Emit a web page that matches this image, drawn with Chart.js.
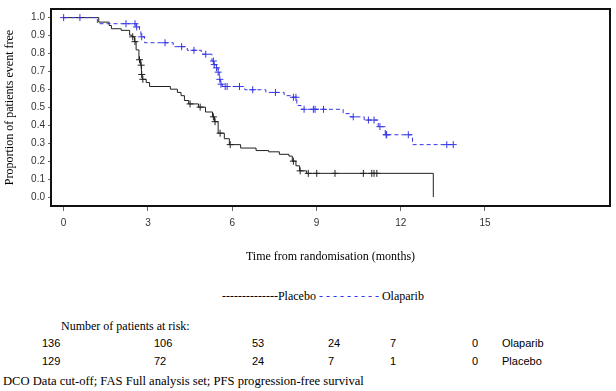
<!DOCTYPE html>
<html>
<head>
<meta charset="utf-8">
<script src="https://cdn.jsdelivr.net/npm/chart.js@4.4.1/dist/chart.umd.min.js"></script>
<style>
  body { margin: 0; width: 616px; height: 391px; background: #fff; position: relative; overflow: hidden; }
  #wrap { position: absolute; left: 0; top: 0; width: 616px; height: 270px; }
  .t { position: absolute; white-space: nowrap; line-height: 14px; }
  .serif { font-family: "Liberation Serif", "Times New Roman", serif; font-size: 12px; color: #000; }
  .sans { font-family: "Liberation Sans", Arial, sans-serif; font-size: 11px; color: #000; }
</style>
</head>
<body>
<div id="wrap"><canvas id="km_canvas"></canvas></div>
<div class="t serif" style="left:222px; top:289px;">--------------Placebo <span style="color:#3535e5">- - - - - - - - -</span> Olaparib</div>
<div class="t serif" style="left:61px; top:319px;">Number of patients at risk:</div>
<div id="risk"></div>
<div class="t serif" style="left:3px; top:374px; font-size:12.6px;">DCO Data cut-off; FAS Full analysis set; PFS progression-free survival</div>

<script>
// Kaplan-Meier steps (time in months, proportion event free after that time)
var olaparibTimes = [0, 1.2, 2.58, 2.7, 2.75, 2.88, 3.9, 4.4, 4.9, 5.28, 5.35, 5.42, 5.5, 5.54, 5.58, 5.65, 6.45, 7.2, 7.85, 8.1, 8.3, 8.45, 9.95, 10.2, 10.7, 11.2, 11.45, 12.42, 13.87];
var olaparibSurv  = [1.0, 0.966, 0.948, 0.925, 0.893, 0.86, 0.838, 0.818, 0.796, 0.758, 0.738, 0.72, 0.696, 0.656, 0.629, 0.616, 0.598, 0.583, 0.565, 0.556, 0.51, 0.489, 0.465, 0.447, 0.429, 0.392, 0.347, 0.292, 0.292];
var olaparibCensored = [0, 0.58, 2.22, 2.54, 2.6, 2.78, 3.61, 4.2, 4.64, 5.06, 5.33, 5.36, 5.44, 5.5, 5.56, 5.6, 5.75, 5.82, 6.26, 6.73, 7.54, 8.18, 8.27, 8.56, 8.89, 8.95, 9.25, 10.31, 10.85, 11.05, 11.26, 11.48, 11.5, 12.27, 13.64, 13.87];

var placeboTimes = [0, 1.25, 1.62, 1.7, 2.05, 2.35, 2.44, 2.52, 2.58, 2.68, 2.74, 2.77, 2.8, 2.94, 3.06, 3.8, 4.05, 4.18, 4.3, 4.45, 4.8, 5.05, 5.3, 5.37, 5.5, 5.72, 5.9, 6.3, 6.85, 7.3, 7.68, 8.02, 8.14, 8.27, 8.4, 8.65, 13.16];
var placeboSurv  = [1.0, 0.975, 0.956, 0.938, 0.929, 0.902, 0.893, 0.866, 0.82, 0.765, 0.735, 0.683, 0.656, 0.638, 0.616, 0.601, 0.583, 0.565, 0.538, 0.519, 0.501, 0.474, 0.447, 0.42, 0.356, 0.325, 0.292, 0.273, 0.259, 0.252, 0.238, 0.228, 0.2, 0.174, 0.146, 0.132, 0];
var placeboCensored = [2.46, 2.54, 2.7, 2.76, 2.78, 2.82, 4.5, 4.86, 5.33, 5.39, 5.57, 5.93, 8.18, 8.42, 8.71, 9.01, 9.66, 10.67, 10.97, 11.05, 11.15];

var xTicks = [0, 3, 6, 9, 12, 15];
var yTicks = [0, 0.1, 0.2, 0.3, 0.4, 0.5, 0.6, 0.7, 0.8, 0.9, 1.0];

// numbers at risk
var riskGroups = ["Olaparib", "Placebo"];
var olaparibAtRisk = [136, 106, 53, 24, 7, 0];
var placeboAtRisk = [129, 72, 24, 7, 1, 0];

var blue = "#3535e5";
var black = "#222";

function toPoints(times, surv) {
  return times.map(function (t, i) { return { x: t, y: surv[i] }; });
}

// put the censor marks on the curve
function censorPoints(times, surv, cens) {
  return cens.map(function (t) {
    var s = surv[0];
    for (var i = 0; i < times.length; i++) {
      if (times[i] <= t) s = surv[i];
    }
    return { x: t, y: s };
  });
}

// risk table under the chart
function render_risk_table() {
  var colX = [42, 154, 252, 328, 390, 472];
  var labelX = 502;
  var rowTop = [336, 354];
  var rows = [olaparibAtRisk, placeboAtRisk];
  var box = document.getElementById("risk");
  rows.forEach(function (row, r) {
    row.forEach(function (v, i) {
      var d = document.createElement("div");
      d.className = "t sans";
      d.style.left = colX[i] + "px";
      d.style.top = rowTop[r] + "px";
      d.textContent = v;
      box.appendChild(d);
    });
    var l = document.createElement("div");
    l.className = "t sans";
    l.style.left = labelX + "px";
    l.style.top = rowTop[r] + "px";
    l.textContent = riskGroups[r];
    box.appendChild(l);
  });
}

// box round the plot area
var framePlugin = {
  id: "frame",
  afterDraw: function (chart) {
    var a = chart.chartArea;
    var c = chart.ctx;
    c.save();
    c.strokeStyle = "#111";
    c.lineWidth = 2;
    c.strokeRect(a.left, a.top, a.right - a.left, a.bottom - a.top);
    c.restore();
  }
};

function render_km() {
  var ctx = document.getElementById("km_canvas").getContext("2d");
  var tickFont = { family: "'Liberation Sans', Arial, sans-serif", size: 10 };
  var titleFont = { family: "'Liberation Serif', 'Times New Roman', serif", size: 12 };

  new Chart(ctx, {
    type: "line",
    data: {
      datasets: [
        {
          label: "Olaparib",
          data: toPoints(olaparibTimes, olaparibSurv),
          stepped: "before",
          borderColor: blue,
          borderWidth: 1,
          borderDash: [4, 3],
          pointRadius: 0,
          fill: false
        },
        {
          label: "Placebo",
          data: toPoints(placeboTimes, placeboSurv),
          stepped: "before",
          borderColor: black,
          borderWidth: 1,
          pointRadius: 0,
          fill: false
        },
        {
          type: "scatter",
          label: "Olaparib censored",
          data: censorPoints(olaparibTimes, olaparibSurv, olaparibCensored),
          pointStyle: "cross",
          pointRadius: 3.5,
          borderColor: blue,
          borderWidth: 1
        },
        {
          type: "scatter",
          label: "Placebo censored",
          data: censorPoints(placeboTimes, placeboSurv, placeboCensored),
          pointStyle: "cross",
          pointRadius: 3.5,
          borderColor: black,
          borderWidth: 1
        }
      ]
    },
    options: {
      animation: false,
      responsive: true,
      maintainAspectRatio: false,
      layout: { padding: { top: 5, right: 6, left: 0, bottom: 0 } },
      plugins: { legend: { display: false }, tooltip: { enabled: false } },
      scales: {
        x: {
          type: "linear",
          min: -0.45,
          max: 19.45,
          afterBuildTicks: function (s) { s.ticks = xTicks.map(function (v) { return { value: v }; }); },
          afterFit: function (s) { s.height = 64; },
          ticks: { font: tickFont, color: "#333", padding: 6, maxRotation: 0 },
          grid: { drawOnChartArea: false, tickLength: 5, color: "#666" },
          border: { display: false },
          title: { display: true, text: "Time from randomisation (months)", font: titleFont, color: "#000", padding: { top: 0, bottom: 6 } }
        },
        y: {
          min: -0.05,
          max: 1.048,
          afterBuildTicks: function (s) { s.ticks = yTicks.map(function (v) { return { value: v }; }); },
          afterFit: function (s) { s.width = 51; },
          ticks: { font: tickFont, color: "#333", padding: 3, callback: function (v) { return v.toFixed(1); } },
          grid: { drawOnChartArea: false, tickLength: 3, color: "#666" },
          border: { display: false },
          title: { display: true, text: "Proportion of patients event free", font: titleFont, color: "#000", padding: { top: 3, bottom: 0 } }
        }
      }
    },
    plugins: [framePlugin]
  });
}

render_km();
render_risk_table();
</script>
</body>
</html>
